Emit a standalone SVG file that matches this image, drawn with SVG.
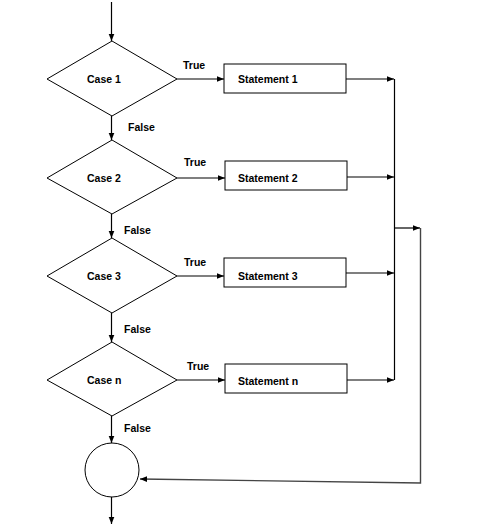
<svg xmlns="http://www.w3.org/2000/svg" width="493" height="526" viewBox="0 0 493 526">
<style>
.shape{fill:#fff;stroke:#000;stroke-width:1}
.ln{fill:none;stroke:#000;stroke-width:1.2}
.gr{fill:none;stroke:#444;stroke-width:1.4}
text{font-family:"Liberation Sans",Arial,sans-serif;font-size:10.5px;font-weight:bold;fill:#000}
</style>
<defs>
<marker id="ah" viewBox="0 0 10 10" refX="10" refY="5" markerWidth="7" markerHeight="7" markerUnits="userSpaceOnUse" orient="auto">
<path d="M0,1 L10,5 L0,9 z" fill="#000"/>
</marker>
</defs>
<rect width="493" height="526" fill="#fff"/>
<g id="connectors">
<line class="ln" x1="111.5" y1="2" x2="111.5" y2="41" marker-end="url(#ah)"/>
<line class="ln" x1="111.5" y1="116" x2="111.5" y2="140" marker-end="url(#ah)"/>
<line class="ln" x1="111.5" y1="214" x2="111.5" y2="238" marker-end="url(#ah)"/>
<line class="ln" x1="111.5" y1="313" x2="111.5" y2="342" marker-end="url(#ah)"/>
<line class="ln" x1="111.5" y1="416" x2="111.5" y2="443" marker-end="url(#ah)"/>
<line class="ln" x1="111.5" y1="497" x2="111.5" y2="524" marker-end="url(#ah)"/>
<line class="ln" x1="177" y1="79" x2="224" y2="79" marker-end="url(#ah)"/>
<line class="ln" x1="177" y1="178" x2="225" y2="178" marker-end="url(#ah)"/>
<line class="ln" x1="177" y1="276" x2="224" y2="276" marker-end="url(#ah)"/>
<line class="ln" x1="177" y1="380" x2="225" y2="380" marker-end="url(#ah)"/>
<line class="ln" x1="346" y1="79" x2="394" y2="79" marker-end="url(#ah)"/>
<line class="ln" x1="347" y1="177" x2="394" y2="177" marker-end="url(#ah)"/>
<line class="ln" x1="346" y1="273" x2="394" y2="273" marker-end="url(#ah)"/>
<line class="ln" x1="347" y1="380" x2="394" y2="380" marker-end="url(#ah)"/>
<line class="ln" x1="394.5" y1="79" x2="394.5" y2="380"/>
<line class="ln" x1="394.5" y1="228" x2="420" y2="228" marker-end="url(#ah)"/>
<polyline class="gr" points="420.5,228 420.5,483 140,479" marker-end="url(#ah)"/>
</g>
<g id="case1">
<polygon class="shape" points="112,41 177,79 112,116 47,79"/>
<text x="87" y="83">Case 1</text>
</g>
<g id="case2">
<polygon class="shape" points="112,140 177,178 112,214 47,178"/>
<text x="87" y="182">Case 2</text>
</g>
<g id="case3">
<polygon class="shape" points="112,238 177,276 112,313 47,276"/>
<text x="87" y="280">Case 3</text>
</g>
<g id="casen">
<polygon class="shape" points="112,342 177,380 112,416 47,380"/>
<text x="87" y="384">Case n</text>
</g>
<g id="stmt1">
<rect class="shape" x="224" y="64" width="122" height="29"/>
<text x="238" y="83">Statement 1</text>
</g>
<g id="stmt2">
<rect class="shape" x="225" y="161" width="122" height="29"/>
<text x="238" y="182">Statement 2</text>
</g>
<g id="stmt3">
<rect class="shape" x="224" y="258" width="122" height="29"/>
<text x="238" y="280">Statement 3</text>
</g>
<g id="stmtn">
<rect class="shape" x="225" y="364" width="122" height="29"/>
<text x="238" y="385">Statement n</text>
</g>
<g id="end">
<circle class="shape" cx="112" cy="470" r="27"/>
</g>
<g id="labels">
<text x="183" y="69">True</text>
<text x="184" y="166">True</text>
<text x="184" y="266">True</text>
<text x="187" y="370">True</text>
<text x="128" y="131">False</text>
<text x="124" y="234">False</text>
<text x="124" y="333">False</text>
<text x="124" y="432">False</text>
</g>
</svg>
